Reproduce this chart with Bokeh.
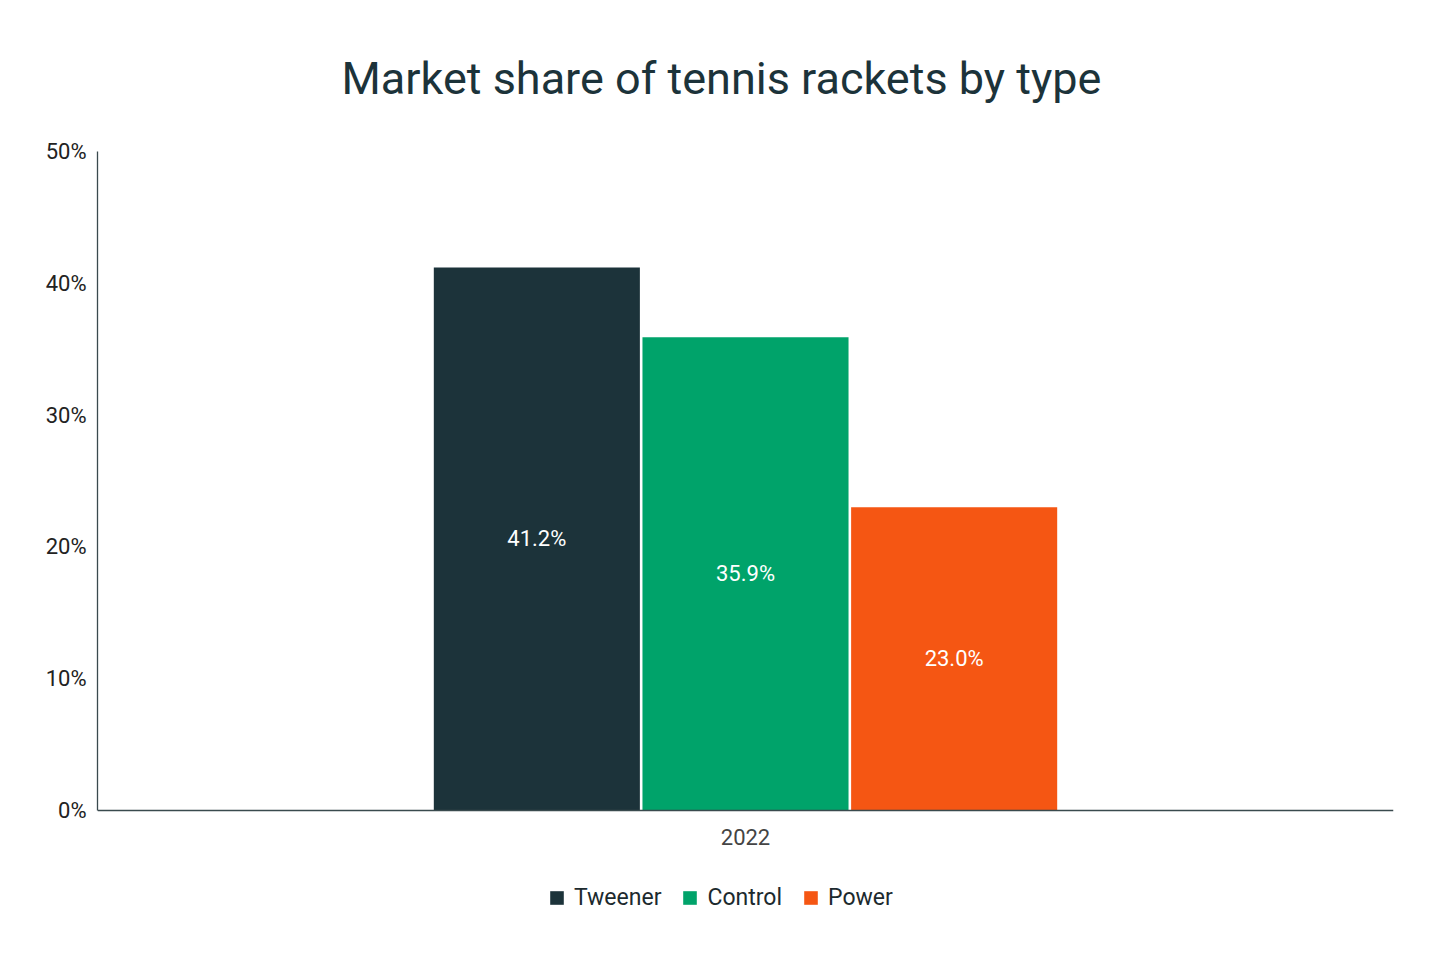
from bokeh.plotting import figure
from bokeh.models import (FactorRange, Range1d, ColumnDataSource, LabelSet, Legend,
                          LegendItem, FixedTicker, NumeralTickFormatter)
from bokeh.transform import dodge
from bokeh.embed import file_html
from bokeh.resources import INLINE
from bokeh.core.properties import value

# ---- data ----
years = ["2022"]
types = ["Tweener", "Control", "Power"]
shares = [0.412, 0.359, 0.230]
share_labels = ["41.2%", "35.9%", "23.0%"]
y_ticks = [0.0, 0.1, 0.2, 0.3, 0.4, 0.5]
palette = ["#1c333a", "#00a36a", "#f55613"]

FONT = "Roboto"

# plot area: 0..50% occupies 659 px; extra room below 0 holds axis label + legend
PLOT_H = 659
EXTRA_H = 112
y_min = -0.5 * EXTRA_H / PLOT_H

p = figure(
    x_range=FactorRange(*years, range_padding=0),
    y_range=Range1d(y_min, 0.5),
    frame_width=1296, frame_height=PLOT_H + EXTRA_H,
    output_backend="svg", toolbar_location=None,
    min_border_left=97, min_border_right=39,
    min_border_bottom=0, min_border_top=151,
    title="Market share of tennis rackets by type",
)
p.title.align = "left"
p.title.text_font = FONT
p.title.text_font_size = "45px"
p.title.text_font_style = "normal"
p.title.text_color = "#1c333a"
p.title.standoff = 94
p.title.offset = 244

p.outline_line_color = None
p.xgrid.visible = False
p.ygrid.visible = False

step = 0.161
bar_w = 0.159
items = []
for i, (t, v, lab, col) in enumerate(zip(types, shares, share_labels, palette)):
    src = ColumnDataSource(dict(x=years, top=[v], mid=[v / 2], label=[lab]))
    off = (i - 1) * step
    r = p.vbar(x=dodge("x", off, range=p.x_range), top="top", bottom=0, width=bar_w,
               source=src, fill_color=col, line_color=col, line_width=0)
    p.add_layout(LabelSet(x=dodge("x", off, range=p.x_range), y="mid", text="label",
                          source=src, text_align="center", text_baseline="middle",
                          text_color="white", text_font=value(FONT),
                          text_font_size="22px"))
    items.append(LegendItem(label=t, renderers=[r]))

legend = Legend(items=items, orientation="horizontal", location=(451, 11),
                label_text_font=FONT, label_text_font_size="23px",
                label_text_color="#1c2a2e", glyph_width=17, glyph_height=17,
                spacing=20, label_standoff=9, border_line_color=None,
                background_fill_alpha=0, margin=0, padding=10)
p.add_layout(legend, "center")

p.xaxis.fixed_location = 0
p.yaxis.bounds = (0, 0.5)
p.yaxis.ticker = FixedTicker(ticks=y_ticks)
p.yaxis.formatter = NumeralTickFormatter(format="0%")
for ax in (p.xaxis, p.yaxis):
    ax.axis_line_color = "#3a4a4e"
    ax.axis_line_width = 1.3
    ax.major_tick_line_color = None
    ax.minor_tick_line_color = None
    ax.major_label_text_font = FONT
    ax.major_label_text_font_size = "22px"
p.yaxis.major_label_text_color = "#222222"
p.xaxis.major_label_text_color = "#444444"
p.xaxis.major_label_standoff = 12
p.yaxis.major_label_standoff = 5

open("out.html", "w").write(file_html(p, INLINE))
